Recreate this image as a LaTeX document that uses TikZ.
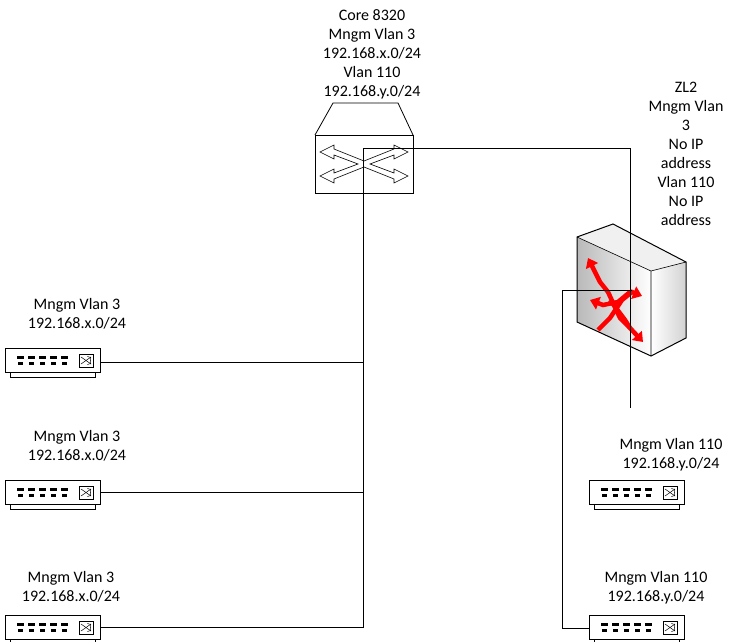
\documentclass[tikz,border=0pt]{standalone}
\usepackage{fontspec}
\setmainfont{Carlito}
\usetikzlibrary{arrows.meta}
\begin{document}
\begin{tikzpicture}[x=1pt,y=-1pt,
 lbl/.style={align=center,font=\fontsize{16}{19}\selectfont,inner sep=0pt},
 ln/.style={line width=0.8pt},
 rarr/.style={line width=4.5pt,red,-{Triangle[length=9pt,width=13pt]}}]
\useasboundingbox (0,0) rectangle (736,642);
\fill[white] (0,0) rectangle (736,642);
% access switch icon
\newcommand{\accsw}[3]{%
 \begin{scope}[shift={(#1,#2)}]
 \node[draw,line width=0.8pt,minimum width=95pt,minimum height=24pt,anchor=north west,inner sep=0pt] (#3) at (0,0) {};
 \draw[line width=0.7pt] (5,24) -- (5,29) -- (90,29) -- (90,24);
 \foreach \i in {0,...,4}{\fill (12+\i*11,8) rectangle (19+\i*11,11); \fill (13+\i*11,14) rectangle (18+\i*11,17);}
 \draw[line width=0.6pt] (74,6) rectangle (88,19);
 \draw[line width=0.5pt,->] (76,9) -- (86,16); \draw[line width=0.5pt,->] (76,16) -- (86,9);
 \end{scope}}
% core switch
\node[draw,line width=0.8pt,minimum width=98pt,minimum height=58pt,anchor=north west,inner sep=0pt] (core) at (315,135) {};
\draw[line width=0.8pt] (315,135) -- (333,103) -- (398,103) -- (413,135);
\foreach \s in {1,-1}{
 \begin{scope}[shift={(364,164)},xscale=\s]
 \draw[line width=0.6pt] (0,-3) -- (30,-15) -- (30,-19) -- (44,-12) -- (30,-5) -- (30,-9) -- (6,0) -- (30,9) -- (30,5) -- (44,12) -- (30,19) -- (30,15) -- (0,3);
 \end{scope}}
\node[lbl] (corel) at (372,54) {Core 8320\\Mngm Vlan 3\\192.168.x.0/24\\Vlan 110\\192.168.y.0/24};
% ZL2 3D box
\shade[left color=gray!55,right color=white] (577,237) -- (651,271) -- (651,356) -- (577,322) -- cycle;
\shade[left color=white,right color=gray!35] (651,271) -- (686,262) -- (686,338) -- (651,356) -- cycle;
\fill[gray!12] (577,237) -- (613,224) -- (686,262) -- (651,271) -- cycle;
\draw[line width=1pt] (577,237) -- (613,224) -- (686,262) -- (686,338) -- (651,356) -- (577,322) -- cycle;
\draw[line width=0.6pt] (577,237) -- (651,271) -- (651,356) (651,271) -- (686,262);
\coordinate (zl2) at (615,290);
\draw[rarr] (630,328) -- (620,318) -- (608,292) -- (600,282) -- (588,258);
\draw[rarr] (630,292) -- (618,302) -- (603,305) -- (590,300);
\draw[rarr] (598,330) -- (610,318) -- (622,300) -- (632,292) -- (642,296);
\draw[rarr] (610,300) -- (625,320) -- (630,328) -- (643,342);
\node[lbl] (zl2l) at (686,154) {ZL2\\Mngm Vlan\\3\\No IP\\address\\Vlan 110\\No IP\\address};
% access switches
\accsw{5}{348}{a1}\accsw{5}{480}{a2}\accsw{5}{615}{a3}
\accsw{589}{480}{b1}\accsw{589}{615}{b2}
\node[lbl] at (77,314) {Mngm Vlan 3\\192.168.x.0/24};
\node[lbl] at (77,446) {Mngm Vlan 3\\192.168.x.0/24};
\node[lbl] at (71,587) {Mngm Vlan 3\\192.168.x.0/24};
\node[lbl] at (671,455) {Mngm Vlan 110\\192.168.y.0/24};
\node[lbl] at (656,588) {Mngm Vlan 110\\192.168.y.0/24};
% links
\coordinate (cj) at (363,148);
\draw[ln] (cj) -- (363,627) -- (a3.east |- 0,627);
\draw[ln] (a1.east |- 0,362) -- (363,362);
\draw[ln] (a2.east |- 0,492) -- (363,492);
\draw[ln] (cj) -- (630,148) -- (630,408);
\draw[ln] (632,290) -- (562,290) -- (562,628) -- (b2.west |- 0,628);
\end{tikzpicture}
\end{document}
